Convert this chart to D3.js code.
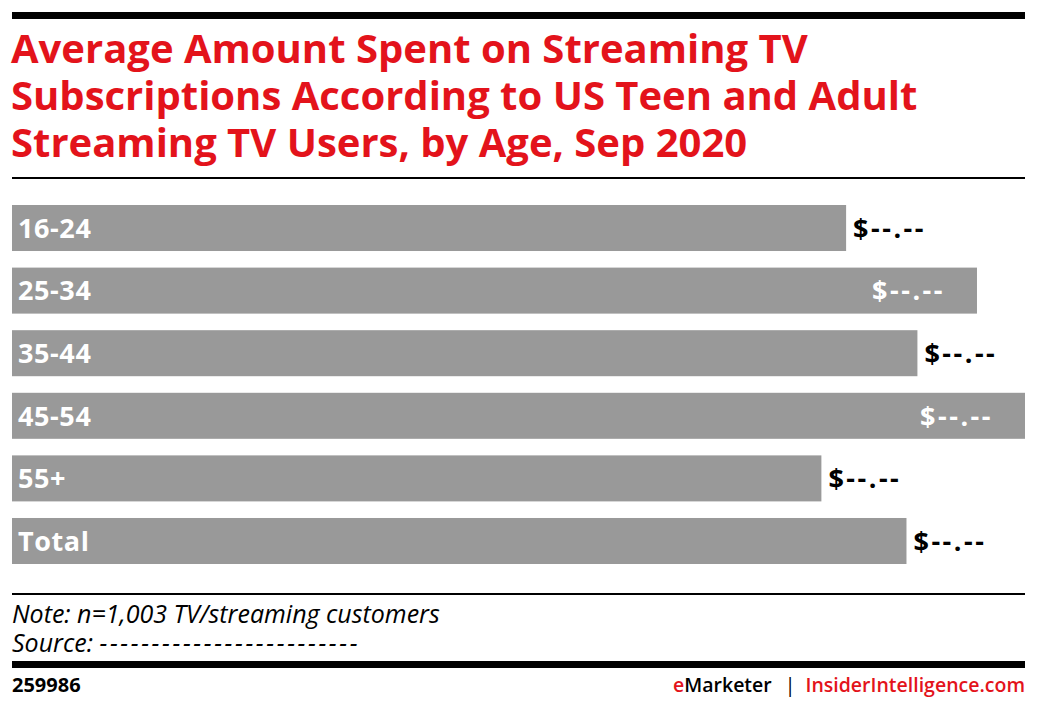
<!DOCTYPE html>
<html>
<head>
<meta charset="utf-8">
<script src="https://cdn.jsdelivr.net/npm/d3@7"></script>
<style>
  html, body { margin: 0; padding: 0; background: #fff; }
  svg { display: block; }
  text { font-family: "Open Sans", Lato, sans-serif; }
</style>
</head>
<body>
<svg id="chart" width="1038" height="710"></svg>
<script>
const titleLines = [
  "Average Amount Spent on Streaming TV",
  "Subscriptions According to US Teen and Adult",
  "Streaming TV Users, by Age, Sep 2020"
];
const categories = ["16-24", "25-34", "35-44", "45-54", "55+", "Total"];
const values = [41.17, 47.63, 44.69, 50.00, 39.95, 44.15];
const valueLabels = ["$--.--", "$--.--", "$--.--", "$--.--", "$--.--", "$--.--"];
const noteText = "Note: n=1,003 TV/streaming customers";
const sourceLabel = "Source: ";
const sourceDashes = "-------------------------";
const chartId = "259986";

const W = 1038, H = 710;
const left = 12, right = 1025;
const red = "#e3131b";
const svg = d3.select("#chart");

svg.append("rect").attr("x", left).attr("y", 12).attr("width", right - left).attr("height", 7).attr("fill", "#000");

const title = svg.append("text").attr("fill", red).attr("font-weight", 700).attr("font-size", 40);
titleLines.forEach((t, i) => {
  title.append("tspan").attr("x", left - 1).attr("y", 63 + i * 47).text(t);
});

svg.append("rect").attr("x", left).attr("y", 177).attr("width", right - left).attr("height", 2).attr("fill", "#000");

const x = d3.scaleLinear().domain([0, d3.max(values)]).range([left, right]);
const y = d3.scaleBand().domain(categories).range([205, 564]).paddingInner(0.265).paddingOuter(0);

const rows = svg.append("g").selectAll("g").data(categories).join("g");
rows.append("rect")
  .attr("x", x(0))
  .attr("y", d => y(d))
  .attr("width", (d, i) => x(values[i]) - x(0))
  .attr("height", y.bandwidth())
  .attr("fill", "#999999");

rows.append("text")
  .attr("x", left + 6)
  .attr("y", d => y(d) + y.bandwidth() / 2)
  .attr("dy", "0.36em")
  .attr("fill", "#fff")
  .attr("font-weight", 700)
  .attr("font-size", 27)
  .attr("letter-spacing", 0.6)
  .text(d => d);

rows.each(function(d, i) {
  const g = d3.select(this);
  const t = g.append("text")
    .attr("y", y(d) + y.bandwidth() / 2)
    .attr("dy", "0.36em")
    .attr("font-weight", 700)
    .attr("font-size", 27)
    .attr("letter-spacing", 2.5)
    .text(valueLabels[i]);
  const w = t.node().getComputedTextLength();
  const end = x(values[i]);
  if (end + 8 + w > right) {
    t.attr("x", end - 32 - w).attr("fill", "#fff");
  } else {
    t.attr("x", end + 7).attr("fill", "#000");
  }
});

svg.append("rect").attr("x", left).attr("y", 593).attr("width", right - left).attr("height", 2).attr("fill", "#000");

svg.append("text").attr("x", left).attr("y", 623).attr("font-style", "italic").attr("font-size", 25).attr("fill", "#000").text(noteText);
const src = svg.append("text").attr("x", left).attr("y", 652).attr("font-style", "italic").attr("font-size", 25).attr("fill", "#000");
src.append("tspan").text(sourceLabel);
src.append("tspan").attr("letter-spacing", 2.6).text(sourceDashes);

svg.append("rect").attr("x", left).attr("y", 661).attr("width", right - left).attr("height", 7).attr("fill", "#000");

svg.append("text").attr("x", left).attr("y", 692).attr("font-weight", 700).attr("font-size", 20).attr("fill", "#000").text(chartId);

const footer = svg.append("text").attr("x", right).attr("y", 692).attr("text-anchor", "end").attr("font-weight", 600).attr("font-size", 19.5);
footer.append("tspan").attr("fill", red).text("e");
footer.append("tspan").attr("fill", "#000").text("Marketer");
footer.append("tspan").attr("fill", "#000").attr("font-weight", 400).attr("dx", 13).text("|");
footer.append("tspan").attr("fill", red).attr("dx", 10).text("InsiderIntelligence.com");
</script>
</body>
</html>
